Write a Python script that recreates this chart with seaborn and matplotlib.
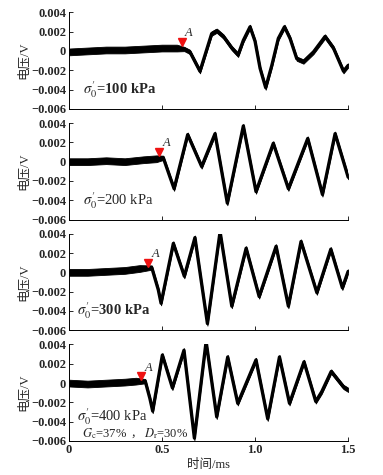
import matplotlib
matplotlib.use("Agg")
import matplotlib.pyplot as plt
import seaborn as sns
import numpy as np

# waveform key points (time in ms, voltage in V)
t1 = [0, 0.1, 0.2, 0.3, 0.4, 0.5, 0.58, 0.62, 0.65, 0.677, 0.704, 0.767, 0.794,
      0.83, 0.875, 0.909, 0.937, 0.973, 1.0, 1.027, 1.057, 1.09, 1.125, 1.158,
      1.188, 1.224, 1.26, 1.314, 1.376, 1.421, 1.475, 1.5]
v1 = [-0.0001, 0.0, 0.0001, 0.0001, 0.0002, 0.0003, 0.0003, 0.0002, -0.0001, -0.0011,
      -0.0021, 0.0018, 0.0021, 0.0015, 0.0003, -0.0004, 0.0011, 0.0025, 0.0010,
      -0.0018, -0.0038, -0.0015, 0.0013, 0.0025, 0.0013, -0.0008, -0.0011, -0.0001,
      0.0015, 0.0003, -0.0021, -0.0015]

t2 = [0, 0.1, 0.2, 0.3, 0.4, 0.47, 0.507, 0.543, 0.565, 0.638, 0.713, 0.785, 0.851,
      0.937, 1.005, 1.098, 1.179, 1.283, 1.362, 1.43, 1.5]
v2 = [0.0, 0.0, 0.0001, 0.0, 0.0002, 0.0003, 0.0004, -0.0016, -0.0028, 0.0028,
      -0.0005, 0.0029, -0.0043, 0.0037, -0.0031, 0.0019, -0.0028, 0.0024, -0.0034,
      0.0029, -0.0016]

t3 = [0, 0.1, 0.2, 0.3, 0.38, 0.445, 0.48, 0.495, 0.561, 0.62, 0.677, 0.744, 0.812,
      0.875, 0.952, 1.022, 1.113, 1.179, 1.247, 1.332, 1.407, 1.469, 1.5]
v3 = [0.0, 0.0, 0.0001, 0.0002, 0.0004, 0.0005, -0.0018, -0.0032, 0.0030, -0.0004,
      0.0036, -0.0053, 0.0042, -0.0035, 0.0025, -0.0025, 0.0027, -0.0035, 0.0032,
      -0.0021, 0.0024, -0.0016, 0.0001]

t4 = [0, 0.1, 0.2, 0.3, 0.36, 0.41, 0.435, 0.45, 0.502, 0.556, 0.618, 0.674, 0.737,
      0.794, 0.853, 0.907, 1.005, 1.068, 1.131, 1.185, 1.263, 1.326, 1.358, 1.409,
      1.475, 1.5]
v4 = [0.0, -0.0001, 0.0, 0.0001, 0.0002, 0.0002, -0.0016, -0.0029, 0.0029, -0.0005,
      0.0034, -0.0057, 0.0043, -0.0035, 0.0027, -0.0021, 0.0024, -0.0037, 0.0027,
      -0.0021, 0.0022, -0.0019, -0.0009, 0.0012, -0.0004, -0.0007]

onset = [0.6, 0.49, 0.43, 0.40]      # end of the pre-trigger noise
A_t = [0.606, 0.486, 0.425, 0.389]   # red marker "A"
A_v = [0.00095, 0.0010, 0.00095, 0.0007]
stress = ["100", "200", "300", "400"]
bold_label = [True, False, True, False]

yticks = [0.004, 0.002, 0, -0.002, -0.004, -0.006]
ytick_labels = ["0.004", "0.002", "0", "\u22120.002", "\u22120.004", "\u22120.006"]
xticks = [0, 0.5, 1.0, 1.5]
xtick_labels = ["0", "0.5", "1.0", "1.5"]

sns.set_theme(style="ticks")
plt.rcParams["font.family"] = ["Liberation Serif", "Noto Sans CJK SC", "DejaVu Sans"]
plt.rcParams["mathtext.fontset"] = "stix"

fig, axes = plt.subplots(4, 1, figsize=(3.83, 4.75), dpi=100, sharex=True)
fig.subplots_adjust(left=0.18, right=0.909, top=0.974, bottom=0.0716, hspace=0.147)

series = [(t1, v1), (t2, v2), (t3, v3), (t4, v4)]
for i, ax in enumerate(axes):
    t = np.array(series[i][0])
    v = np.array(series[i][1])
    # noisy band: wider before the wave arrives
    half = np.where(t <= onset[i], 0.00035, 0.00022)
    ax.fill_between(t, v - half, v + half, color="black", linewidth=0.6)
    sns.lineplot(x=t, y=v, ax=ax, color="black", linewidth=2.4, estimator=None, sort=False)

    ax.plot(A_t[i], A_v[i], marker="v", color="#ee1111", markersize=6, linestyle="none")
    ax.text(A_t[i] + 0.018, A_v[i] + 0.0006, "A", fontsize=9, style="italic")

    ax.text(0.045 if i >= 2 else 0.075, -0.0035 if i == 3 else -0.004,
            r"$\sigma_0'$=" + stress[i] + " kPa", fontsize=10.5,
            fontweight="bold" if bold_label[i] else "normal", va="center")

    ax.set_xlim(0, 1.5)
    ax.set_ylim(-0.006, 0.004)
    ax.set_yticks(yticks)
    ax.set_yticklabels(ytick_labels)
    ax.set_xticks(xticks)
    ax.tick_params(direction="in", length=3, width=0.7, labelsize=9, pad=2)
    for lab in ax.get_yticklabels():
        lab.set_fontweight("bold")
    ax.set_ylabel("电压/V", fontsize=9, labelpad=1)
    sns.despine(ax=ax)
    for s in ["left", "bottom"]:
        ax.spines[s].set_linewidth(0.7)
        ax.spines[s].set_color("black")

# G_c / D_r line, the full-width comma drawn as its own text
axes[3].text(0.07, -0.0056, r"$G_\mathrm{c}$=37%", fontsize=9, va="baseline")
axes[3].text(0.33, -0.0056, "，", fontsize=8, va="baseline", family="Noto Sans CJK SC")
axes[3].text(0.405, -0.0056, r"$D_\mathrm{r}$=30%", fontsize=9, va="baseline")
axes[3].set_xticklabels(xtick_labels)
for lab in axes[3].get_xticklabels():
    lab.set_fontweight("bold")
axes[3].set_xlabel("时间/ms", fontsize=9, labelpad=2)

fig.savefig("out.png", dpi=100)
